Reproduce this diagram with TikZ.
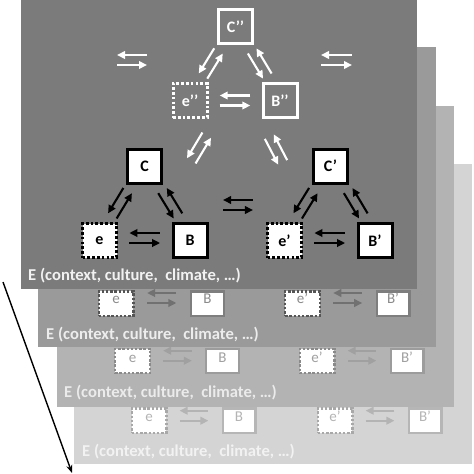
\documentclass[tikz,border=0pt]{standalone}
\usepackage{fontspec}
\setmainfont{Carlito}
\usetikzlibrary{calc,arrows.meta}
\definecolor{lay1}{HTML}{7B7B7B}
\definecolor{lay2}{HTML}{9A9A9A}
\definecolor{lay3}{HTML}{B3B3B3}
\definecolor{lay4}{HTML}{D4D4D4}
\definecolor{dot2}{HTML}{555555}
\definecolor{brd2}{HTML}{7E7E7E}
\definecolor{txt2}{HTML}{8A8A8A}
\definecolor{dot3}{HTML}{8A8A8A}
\definecolor{brd3}{HTML}{9C9C9C}
\definecolor{txt3}{HTML}{A0A0A0}
\definecolor{dot4}{HTML}{A8A8A8}
\definecolor{brd4}{HTML}{B6B6B6}
\definecolor{txt4}{HTML}{B4B4B4}
\newcommand\pairar[5]{%
  \draw[#3] ($(#1)!#4!(#2)!5pt!-90:(#2)+#5$) -- ($(#2)!#4!(#1)!5pt!90:(#1)+#5$);
  \draw[#3] ($(#2)!#4!(#1)!5pt!-90:(#1)+#5$) -- ($(#1)!#4!(#2)!5pt!90:(#2)+#5$);
}
\tikzset{
  boxk/.style={draw=black, fill=white, line width=3pt, minimum width=34pt, minimum height=34pt,
    inner sep=0pt, text=black, font=\bfseries\fontsize{16pt}{18pt}\selectfont},
  boxkdot/.style={boxk, dash pattern=on 2.7pt off 2.1pt},
  boxw/.style={draw=white, line width=3pt, minimum width=34pt, minimum height=34pt,
    inner sep=0pt, text=white, font=\bfseries\fontsize{16pt}{18pt}\selectfont},
  boxwdot/.style={boxw, dash pattern=on 2.7pt off 2.1pt},
  ark/.style={draw=black, line width=2.1pt, -{Triangle[length=8pt,width=7.5pt]}},
  arw/.style={ark, draw=white},
  ar2/.style={ark, draw=brd2!90!black},
  ar3/.style={ark, draw=txt3},
  ar4/.style={ark, draw=txt4},
  backbox/.style={fill=white, line width=2.4pt, inner sep=0pt, minimum height=24.4pt,
    font=\fontsize{15pt}{15pt}\selectfont, text height=10pt, text depth=11pt},
  bk2e/.style={backbox, draw=dot2, dash pattern=on 2.4pt off 1.8pt, minimum width=34.6pt, text=txt2},
  bk2b/.style={backbox, draw=brd2, minimum width=32.6pt, text=txt2},
  bk3e/.style={backbox, draw=dot3, dash pattern=on 2.4pt off 1.8pt, minimum width=34.6pt, text=txt3, text depth=8pt},
  bk3b/.style={backbox, draw=brd3, minimum width=32.6pt, text=txt3, text depth=8pt},
  bk4e/.style={backbox, draw=dot4, dash pattern=on 2.4pt off 1.8pt, minimum width=34.6pt, text=txt4, text depth=8pt},
  bk4b/.style={backbox, draw=brd4, minimum width=32.6pt, text=txt4, text depth=8pt},
  elabel/.style={anchor=west, inner sep=0pt, font=\bfseries\fontsize{16.6pt}{18pt}\selectfont},
  bigarrow/.style={draw=black, line width=1.4pt, -{Stealth[length=8pt,width=6pt]}}
}
\begin{document}
\begin{tikzpicture}[x=1pt,y=-1pt]
\useasboundingbox (0,0) rectangle (474,474);

% ---- layer 4 (back)
\fill[lay4] (74,164) rectangle (472,464);
\node[bk4e] (e4)  at (149,420.5) {e};
\node[bk4b] (B4)  at (239,420.5) {B};
\node[bk4e] (ep4) at (335,420.5) {e’};
\node[bk4b] (Bp4) at (425,420.5) {B’};
\pairar{e4}{B4}{ar4}{0.34}{(0,-4.8)}
\pairar{ep4}{Bp4}{ar4}{0.34}{(0,-4.8)}
\node[elabel, text=white!95!black] (E4) at (82,452) {E (context, culture,\ \ climate, …)};

% ---- layer 3
\fill[lay3] (57,106) rectangle (454,407);
\node[bk3e] (e3)  at (132.5,361) {e};
\node[bk3b] (B3)  at (222.5,361) {B};
\node[bk3e] (ep3) at (317,361) {e’};
\node[bk3b] (Bp3) at (407,361) {B’};
\pairar{e3}{B3}{ar3}{0.34}{(0,-5.3)}
\pairar{ep3}{Bp3}{ar3}{0.34}{(0,-5.3)}
\node[elabel, text=white!92!black] (E3) at (64,393) {E (context, culture,\ \ climate, …)};

% ---- layer 2
\fill[lay2] (38,47) rectangle (436,347);
\node[bk2e] (e2)  at (116,303.5) {e};
\node[bk2b] (B2)  at (207.5,303.5) {B};
\node[bk2e] (ep2) at (302.5,303.5) {e’};
\node[bk2b] (Bp2) at (393,303.5) {B’};
\pairar{e2}{B2}{ar2}{0.34}{(0,-5.5)}
\pairar{ep2}{Bp2}{ar2}{0.34}{(0,-5.5)}
\node[elabel, text=white!93!black] (E2) at (46,335) {E (context, culture,\ \ climate, …)};

% ---- layer 1 (front)
\fill[lay1] (21,0) rectangle (417,289);
\node[boxw]    (Cpp) at (235.5,26.5) {C’’};
\node[boxwdot] (epp) at (190,100.5)  {e’’};
\node[boxw]    (Bpp) at (280,100.5)  {B’’};
\node[boxk]    (C)   at (144.5,166)  {C};
\node[boxkdot] (e)   at (99.5,240.5) {e};
\node[boxk]    (B)   at (190,240.5)  {B};
\node[boxk]    (Cp)  at (330.5,166)  {C’};
\node[boxkdot] (ep)  at (284.5,240.5) {e’};
\node[boxk]    (Bp)  at (375,240.5)  {B’};

\pairar{Cpp}{epp}{arw}{0.33}{(-2,0)}
\pairar{Cpp}{Bpp}{arw}{0.33}{(2,0)}
\pairar{epp}{Bpp}{arw}{0.33}{(0,0)}
\pairar{C}{e}{ark}{0.33}{(-2,0)}
\pairar{C}{B}{ark}{0.33}{(3,0)}
\pairar{e}{B}{ark}{0.33}{(0,-2.5)}
\pairar{Cp}{ep}{ark}{0.33}{(-2,0)}
\pairar{Cp}{Bp}{ark}{0.33}{(3,0)}
\pairar{ep}{Bp}{ark}{0.33}{(0,-2.5)}

\coordinate (gT) at (240,80);
\coordinate (gL) at (165,205);
\coordinate (gR) at (305,205);
\pairar{gT}{gL}{arw}{0.397}{(-3.5,5.5)}
\pairar{gT}{gR}{arw}{0.397}{(3.5,7)}
\pairar{gL}{gR}{ark}{0.393}{(3,0)}

\coordinate (fL1) at (117,60);
\coordinate (fL2) at (147,60);
\coordinate (fR1) at (321,60);
\coordinate (fR2) at (352,60);
\pairar{fL1}{fL2}{arw}{0}{(0,0)}
\pairar{fR1}{fR2}{arw}{0}{(0,0)}

\node[elabel, text=white!95!black] (E1) at (28,276) {E (context, culture,\ \ climate, …)};

% ---- time arrow
\coordinate (tA) at (3,282);
\coordinate (tB) at (72,473);
\draw[bigarrow] (tA) -- (tB);
\end{tikzpicture}
\end{document}
